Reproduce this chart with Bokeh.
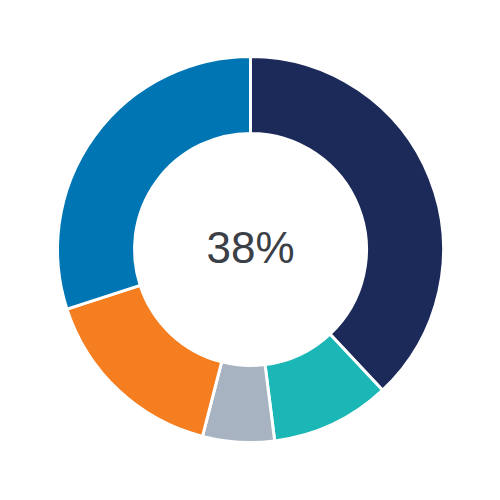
from math import pi

from bokeh.core.properties import value
from bokeh.embed import file_html
from bokeh.models import ColumnDataSource
from bokeh.plotting import figure
from bokeh.resources import INLINE

# slices clockwise from 12 o'clock
categories = ["Navy", "Teal", "Gray", "Orange", "Blue"]
shares = [38, 10, 6, 16, 30]
colors = ["#1c2a5a", "#1bb6b6", "#a8b3c1", "#f47e20", "#0075b4"]
center_label = "38%"


def main():
    total = float(sum(shares))
    starts, ends = [], []
    acc = 0.0
    for s in shares:
        # clockwise from the top
        starts.append(pi / 2 - 2 * pi * acc / total)
        acc += s
        ends.append(pi / 2 - 2 * pi * acc / total)

    src = ColumnDataSource(dict(cat=categories, share=shares, color=colors,
                                start=starts, end=ends))

    p = figure(width=484, height=484, x_range=(-250, 234), y_range=(-235, 249),
               output_backend="svg", toolbar_location=None, min_border=0)
    p.axis.visible = False
    p.grid.visible = False
    p.outline_line_color = None

    p.annular_wedge(x=0, y=0, inner_radius=116, outer_radius=193,
                    start_angle="start", end_angle="end", direction="clock",
                    fill_color="color", line_color="white", line_width=3,
                    source=src)

    p.text(x=[0], y=[2], text=[center_label], text_align="center",
           text_baseline="middle", text_font=value("Liberation Sans"),
           text_font_size="44px", text_color="#3b4046")

    open("out.html", "w").write(file_html(p, INLINE))


if __name__ == "__main__":
    main()
